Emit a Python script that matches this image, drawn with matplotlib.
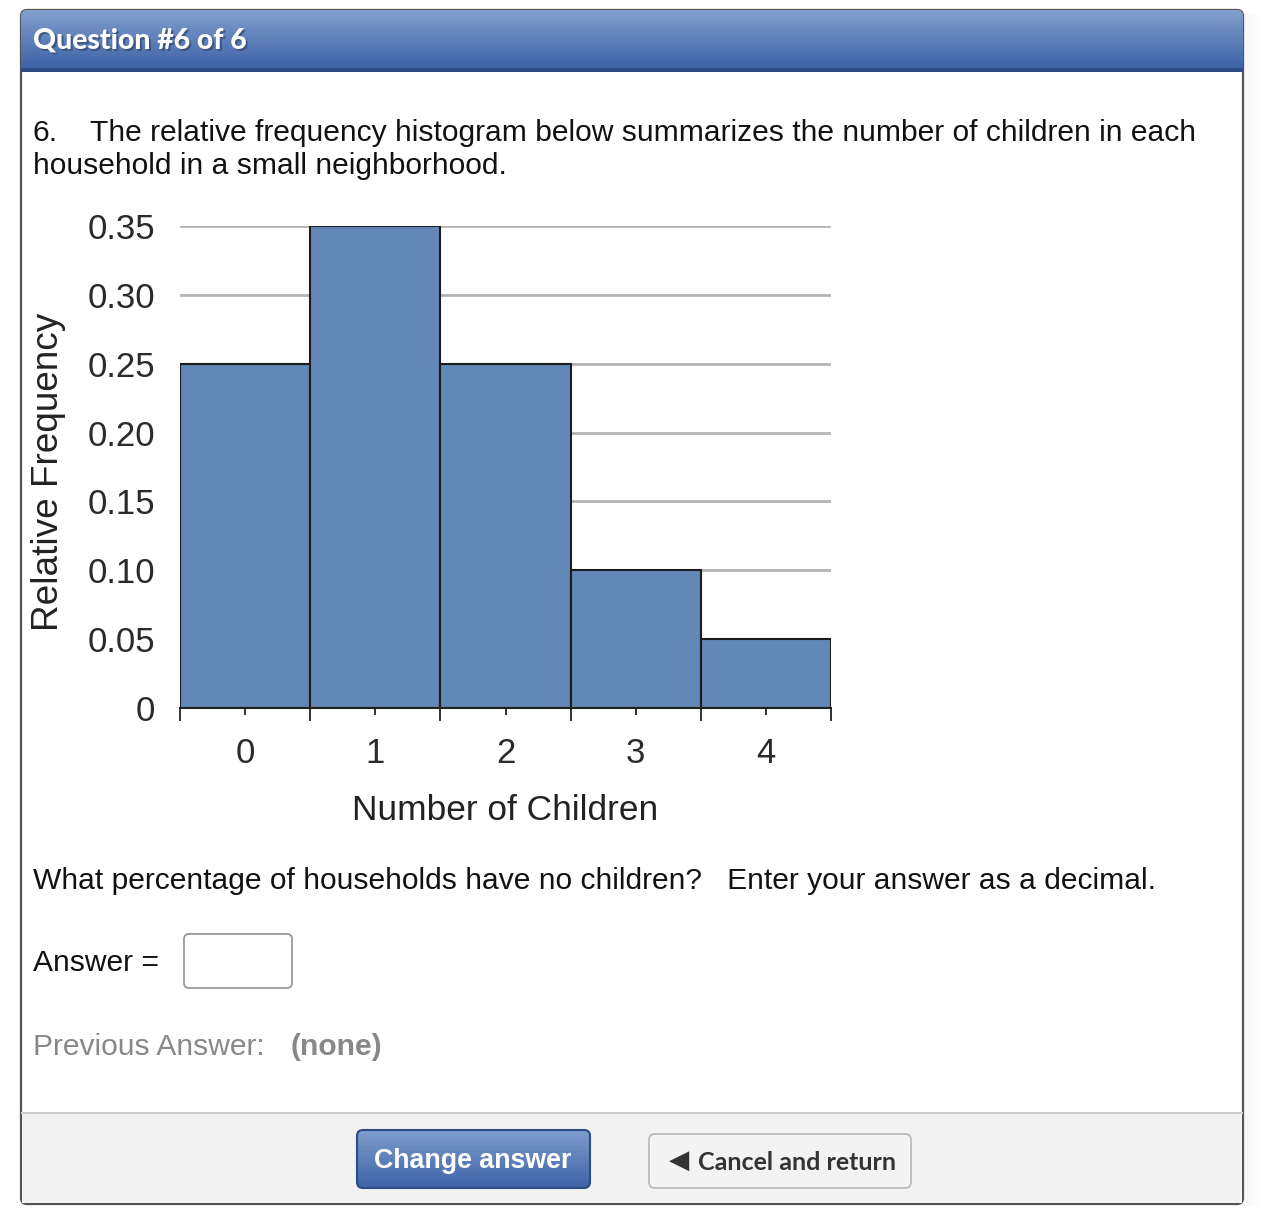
import numpy as np
import matplotlib.pyplot as plt
from matplotlib.patches import FancyBboxPatch, Rectangle

# data
children = [0, 1, 2, 3, 4]
rel_freq = [0.25, 0.35, 0.25, 0.10, 0.05]
ytick_vals = [0, 0.05, 0.10, 0.15, 0.20, 0.25, 0.30, 0.35]
ytick_labels = ["0", "0.05", "0.10", "0.15", "0.20", "0.25", "0.30", "0.35"]
xtick_labels = ["0", "1", "2", "3", "4"]

W, H = 1283, 1218
body_font = "Liberation Sans"
head_font = "Lato"
fs = 21.6

fig = plt.figure(figsize=(W / 100, H / 100), dpi=100)

# page layer, in pixel coordinates (y down)
bg = fig.add_axes([0, 0, 1, 1])
bg.set_xlim(0, W)
bg.set_ylim(H, 0)
bg.axis("off")


def gradient(ax, x0, x1, y0, y1, c_top, c_bot, clip=None, z=1):
    c_top = np.array(plt.matplotlib.colors.to_rgb(c_top))
    c_bot = np.array(plt.matplotlib.colors.to_rgb(c_bot))
    t = np.linspace(0, 1, 64)[:, None, None]
    img = c_top * (1 - t) + c_bot * t
    im = ax.imshow(img, extent=(x0, x1, y1, y0), aspect="auto", zorder=z,
                   interpolation="bilinear")
    if clip is not None:
        im.set_clip_path(clip)
    return im


# soft shadow on the right of the panel
for i in range(18):
    bg.add_patch(Rectangle((1243 + i, 14), 1, 1192, color="black",
                           alpha=0.035 * (1 - i / 18), lw=0, zorder=0))

# panel
panel = FancyBboxPatch((21, 10), 1222, 1194, boxstyle="round,pad=0,rounding_size=6",
                       fc="white", ec="#555555", lw=1.6, zorder=1)
bg.add_patch(panel)

# header bar
hdr = FancyBboxPatch((21, 10), 1222, 62, boxstyle="round,pad=0,rounding_size=6",
                     fc="none", ec="none", zorder=2)
bg.add_patch(hdr)
gradient(bg, 21, 1243, 10, 69, "#829fce", "#3c61a5", clip=hdr, z=2)
bg.add_patch(Rectangle((21, 68), 1222, 4, color="#2c4a84", lw=0, zorder=3))
bg.text(35, 51, "Question #6 of 6", color="#2b3f66", alpha=0.6, fontsize=20.4,
        fontweight="black", family=head_font, va="baseline", zorder=4)
bg.text(33, 49, "Question #6 of 6", color="white", fontsize=20.4,
        fontweight="black", family=head_font, va="baseline", zorder=5)

# question text
bg.text(33, 141, "6.", fontsize=fs, family=body_font, color="#111111",
        va="baseline", zorder=4)
bg.text(90, 141, "The relative frequency histogram below summarizes the number of children in each",
        fontsize=fs, family=body_font, color="#111111", va="baseline", zorder=4)
bg.text(33, 174, "household in a small neighborhood.",
        fontsize=fs, family=body_font, color="#111111", va="baseline", zorder=4)
bg.text(33, 889, "What percentage of households have no children?   Enter your answer as a decimal.",
        fontsize=fs, family=body_font, color="#111111", va="baseline", zorder=4)
bg.text(33, 971, "Answer =", fontsize=fs, family=body_font, color="#111111",
        va="baseline", zorder=4)
bg.add_patch(FancyBboxPatch((184, 934), 108, 54, boxstyle="round,pad=0,rounding_size=5",
                            fc="white", ec="#999999", lw=1.3, zorder=4))
bg.text(33, 1055, "Previous Answer:", fontsize=fs, family=body_font, color="#888888",
        va="baseline", zorder=4)
bg.text(290, 1055, "(none)", fontsize=fs, family=body_font, color="#888888",
        fontweight="bold", va="baseline", zorder=4)

# footer
bg.add_patch(Rectangle((22, 1113), 1220, 90, color="#f2f2f2", lw=0, zorder=2))
bg.plot([22, 1242], [1113, 1113], color="#cccccc", lw=1.5, zorder=3)

btn = FancyBboxPatch((357, 1130), 233, 58, boxstyle="round,pad=0,rounding_size=6",
                     fc="none", ec="#2d4c86", lw=1.5, zorder=5)
bg.add_patch(btn)
gradient(bg, 357, 590, 1130, 1188, "#7f9dcc", "#3e63a7", clip=btn, z=4)
bg.text(473, 1168, "Change answer", color="white", fontsize=19.3, fontweight="bold",
        family=body_font, ha="center", va="baseline", zorder=6)

bg.add_patch(FancyBboxPatch((649, 1134), 262, 54, boxstyle="round,pad=0,rounding_size=6",
                            fc="#f3f3f3", ec="#bbbbbb", lw=1.3, zorder=4))
bg.text(679, 1161, "\u25c0", color="#333333", fontsize=19, family="DejaVu Sans",
        ha="center", va="center", zorder=6)
bg.text(698, 1170, "Cancel and return", color="#333333", fontsize=18,
        fontweight="bold", family=head_font, ha="left", va="baseline", zorder=6)

# histogram
ax = fig.add_axes([180 / W, 1 - 708 / H, (831 - 180) / W, (708 - 226) / H])
ax.set_facecolor("none")
ax.bar(children, rel_freq, width=1.0, color="#6387b7", edgecolor="#1c1c1c",
       linewidth=1.5, zorder=3)
ax.set_xlim(-0.5, 4.5)
ax.set_ylim(0, 0.35)
for v in ytick_vals[1:]:
    ax.axhline(v, color="#b4b4b4", lw=2, zorder=1)
ax.set_yticks(ytick_vals)
ax.set_yticklabels(ytick_labels, fontsize=25, family=body_font, color="#2a2a2a")
ax.tick_params(axis="y", length=0, pad=18)

edges = np.arange(-0.5, 5.0, 1.0)
ax.set_xticks(edges)
ax.set_xticklabels([""] * len(edges))
ax.set_xticks(children, minor=True)
ax.set_xticklabels(xtick_labels, minor=True, fontsize=25, family=body_font, color="#2a2a2a")
ax.tick_params(axis="x", which="major", length=9, width=1.3, color="#222222", direction="out")
ax.tick_params(axis="x", which="minor", length=5, width=1.3, color="#222222", pad=16)

for s in ["top", "right", "left"]:
    ax.spines[s].set_visible(False)
ax.spines["bottom"].set_color("#222222")
ax.spines["bottom"].set_linewidth(1.5)
ax.spines["bottom"].set_zorder(4)

ax.set_xlabel("Number of Children", fontsize=25.4, family=body_font, color="#222222", labelpad=17)
ax.set_ylabel("Relative Frequency", fontsize=26.6, family=body_font, color="#222222")
ax.yaxis.set_label_coords(-0.175, 0.49)

fig.savefig("out.png", dpi=100)
